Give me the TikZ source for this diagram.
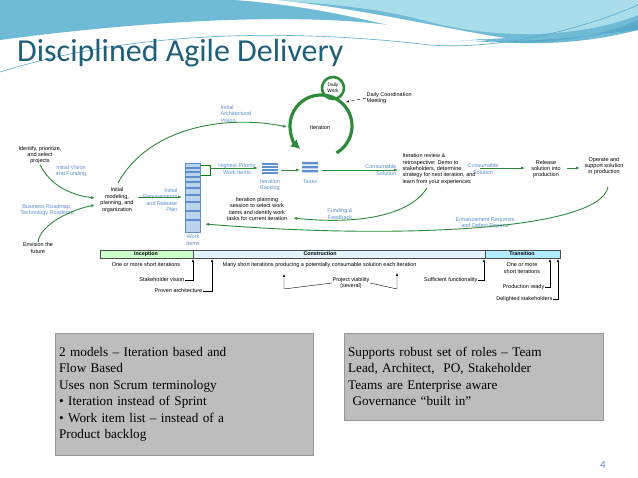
\documentclass[tikz,border=0pt]{standalone}
\usepackage{fontspec}
\setmainfont{Liberation Serif}
\setsansfont{Liberation Sans}
\newfontfamily\calib{Carlito}
\usetikzlibrary{arrows.meta}
\definecolor{ttl}{HTML}{1F5F78}
\definecolor{gr}{HTML}{2E8B3A}
\definecolor{bl}{HTML}{5B8FD0}
\definecolor{boxg}{HTML}{BDBDBD}
\definecolor{hdA}{HTML}{6FBBD6}
\definecolor{hdB}{HTML}{A9DDE9}
\definecolor{hdC}{HTML}{58AACB}
\begin{document}
\begin{tikzpicture}[x=1pt,y=-1pt,
  sm/.style={font=\sffamily\fontsize{5.5}{6.4}\selectfont,align=center,inner sep=0.5pt},
  smb/.style={sm,text=bl},
  ga/.style={draw=gr,line width=0.9pt,-{Latex[length=4pt]}},
  ka/.style={draw=black,line width=0.4pt,-{Latex[length=3pt]}},
  gbox/.style={fill=boxg,draw=boxg!80!black,line width=0.3pt,anchor=north west,align=left,font=\fontsize{13.2}{16.5}\selectfont,inner sep=4pt}]
\useasboundingbox (0,0) rectangle (638,478);
\fill[white] (0,0) rectangle (638,478);
% header waves
\fill[hdA] (0,0) -- (638,0) -- (638,30) .. controls (560,50) and (490,45) .. (420,30) .. controls (320,10) and (150,20) .. (0,40) -- cycle;
\fill[hdB] (250,0) -- (638,0) -- (638,15) .. controls (580,38) and (500,40) .. (430,22) .. controls (380,8) and (320,2) .. (250,0) -- cycle;
\fill[white] (235,0) .. controls (300,5) and (350,15) .. (420,33) .. controls (450,40) and (480,40) .. (505,38) .. controls (450,30) and (360,8) .. (275,0) -- cycle;
\fill[hdC] (638,20) .. controls (580,45) and (520,45) .. (460,40) .. controls (530,45) and (590,35) .. (638,30) -- cycle;
\draw[hdC,line width=0.6pt] (0,72) .. controls (150,25) and (320,32) .. (430,45) .. controls (500,50) and (580,30) .. (638,5);
\node[anchor=base west,font=\calib\fontsize{32}{32}\selectfont,text=ttl,inner sep=0] (title) at (17,62) {Disciplined Agile Delivery};
% iteration loops
\draw[gr,line width=2.6pt] (333,88) circle (11);
\node[sm,font=\sffamily\fontsize{4.8}{5.5}\selectfont] (dw) at (333,88) {Daily\\Work};
\draw[gr,line width=3.2pt,-{Latex[length=9pt,width=10pt]}] (321,126) ++(60:31) arc (60:-228:31);
\node[sm] (it) at (320,128) {Iteration};
\node[sm,align=left,anchor=west] (dcm) at (366,98) {Daily Coordination\\Meeting};
\draw[ka,dashed] (dcm.west) -- (346,102);
% tasks
\node (tasks) at (310,167) {};
\fill[bl] (302,162) rectangle (318,164.5) (302,166) rectangle (318,168.5) (302,170) rectangle (318,172.5);
\node[smb] at (310,182) {Tasks};
% backlog
\node (bk) at (270,168) {};
\foreach \y in {163,166,169,172} \fill[bl] (262,\y) rectangle (278,\y+2);
\node[smb] at (270,185) {Iteration\\Backlog};
% work items
\node (wi) at (193,197) {};
\foreach \y/\h in {163/4,168/3,172/4,177/4,182/5,188/6,195/6,202/8,211/8,220/12}
  \draw[bl,fill=bl!40!white,line width=0.5pt] (185,\y) rectangle (200,\y+\h);
\node[smb] at (193,240) {Work\\Items};
% text nodes
\node[sm] (idp) at (40,155) {Identify, prioritize,\\and select\\projects};
\node[smb] (ivf) at (71,171) {Initial Vision\\and Funding};
\node[smb] (brm) at (47,210) {Business Roadmap,\\Technology Roadmap};
\node[sm] (env) at (38,248) {Envision the\\future};
\node[sm] (im) at (117,200) {Initial\\modeling,\\planning, and\\organization};
\node[smb,align=left,anchor=west] at (220,114) {Initial\\Architectural\\Vision};
\node[smb,align=right,anchor=east] at (178,200) {Initial\\Requirements\\and Release\\Plan};
\node[smb] at (237,169) {Highest Priority\\Work Items};
\node[sm] (ips) at (257,209) {Iteration planning\\session to select work\\items and identify work\\tasks for current iteration};
\node[smb,align=right,anchor=east] at (397,170) {Consumable\\Solution};
\node[sm,align=left,anchor=west] (rev) at (402,169) {Iteration review \&\\retrospective: Demo to\\stakeholders, determine\\strategy for next iteration, and\\learn from your experiences};
\node[smb] at (483,169) {Consumable\\Solution};
\node[sm] (rel) at (546,169) {Release\\solution into\\production};
\node[sm] (op) at (604,166) {Operate and\\support solution\\in production};
\node[smb] at (340,214) {Funding \&\\Feedback};
\node[smb] at (485,223) {Enhancement Requests\\and Defect Reports};
% green arrows
\draw[ga] (idp.south) .. controls (50,185) and (70,195) .. (95,198);
\draw[ga] (env.north) .. controls (40,225) and (70,210) .. (95,205);
\draw[ga] (118,183) .. controls (150,125) and (230,115) .. (287,127);
\draw[ga] (138,197) -- (182,197);
\draw[green!50!black,line width=0.4pt] (201,165) -- (210,165) -- (210,175) -- (201,175);
\draw[ga] (210,168) -- (258,168);
\draw[ga] (281,170) -- (300,170);
\draw[ga] (322,170) -- (398,170);
\draw[ga] (480,168) -- (525,168);
\draw[ga] (567,168) -- (580,168);
\draw[ga] (427,188) .. controls (410,215) and (360,225) .. (293,218);
\draw[ga] (608,187) .. controls (600,230) and (400,240) .. (205,224);
% phase bar
\draw[fill=green!20!white,draw=black!70,line width=0.5pt] (100,250) rectangle (193,258);
\draw[fill=cyan!12!white,draw=black!70,line width=0.5pt] (193,250) rectangle (485,258);
\draw[fill=blue!25!cyan!30!white,draw=black!70,line width=0.5pt] (485,250) rectangle (560,258);
\node[sm,font=\sffamily\bfseries\fontsize{5.3}{6}\selectfont] (inc) at (146,254) {Inception};
\node[sm,font=\sffamily\bfseries\fontsize{5.3}{6}\selectfont] (con) at (320,254) {Construction};
\node[sm,font=\sffamily\bfseries\fontsize{5.3}{6}\selectfont] (tra) at (522,254) {Transition};
\node[sm] at (146,265) {One or more short iterations};
\node[sm,anchor=west] at (222,265) {Many short iterations producing a potentially consumable solution each iteration};
\node[sm] at (522,268) {One or more\\short iterations};
\node[sm,anchor=east] (sv) at (185,280) {Stakeholder vision};
\draw[ka] (sv.east) -- (193,280) -- (193,259);
\node[sm,anchor=east] (pa) at (203,291) {Proven architecture};
\draw[ka] (pa.east) -- (212,291) -- (212,259);
\node[sm] (pv) at (351,283) {Project viability\\(several)};
\draw[ka] (pv.west) -- (284,289) -- (284,274);
\draw[ka] (pv.east) -- (397,289) -- (397,273);
\node[sm,anchor=east] (sf) at (478,280) {Sufficient functionality};
\draw[ka] (sf.east) -- (484,280) -- (484,259);
\node[sm,anchor=east] (pr) at (545,287) {Production ready};
\draw[ka] (pr.east) -- (550,287) -- (550,259);
\node[sm,anchor=east] (ds) at (553,299) {Delighted stakeholders};
\draw[ka] (ds.east) -- (558,299) -- (558,259);
% bottom boxes
\node[gbox,text width=250pt,minimum height=122pt] (lb) at (55,333) {2 models -- Iteration based and\\Flow Based\\Uses non Scrum terminology\\\textbullet\ Iteration instead of Sprint\\\textbullet\ Work item list -- instead of a\\Product backlog};
\node[gbox,text width=251pt,minimum height=87pt] (rb) at (344,333) {Supports robust set of roles -- Team\\Lead, Architect,\ \ PO, Stakeholder\\Teams are Enterprise aware\\\ Governance ``built in''};
\node[font=\calib\fontsize{11}{11}\selectfont,text=bl] (pn) at (603,465) {4};
\end{tikzpicture}
\end{document}
